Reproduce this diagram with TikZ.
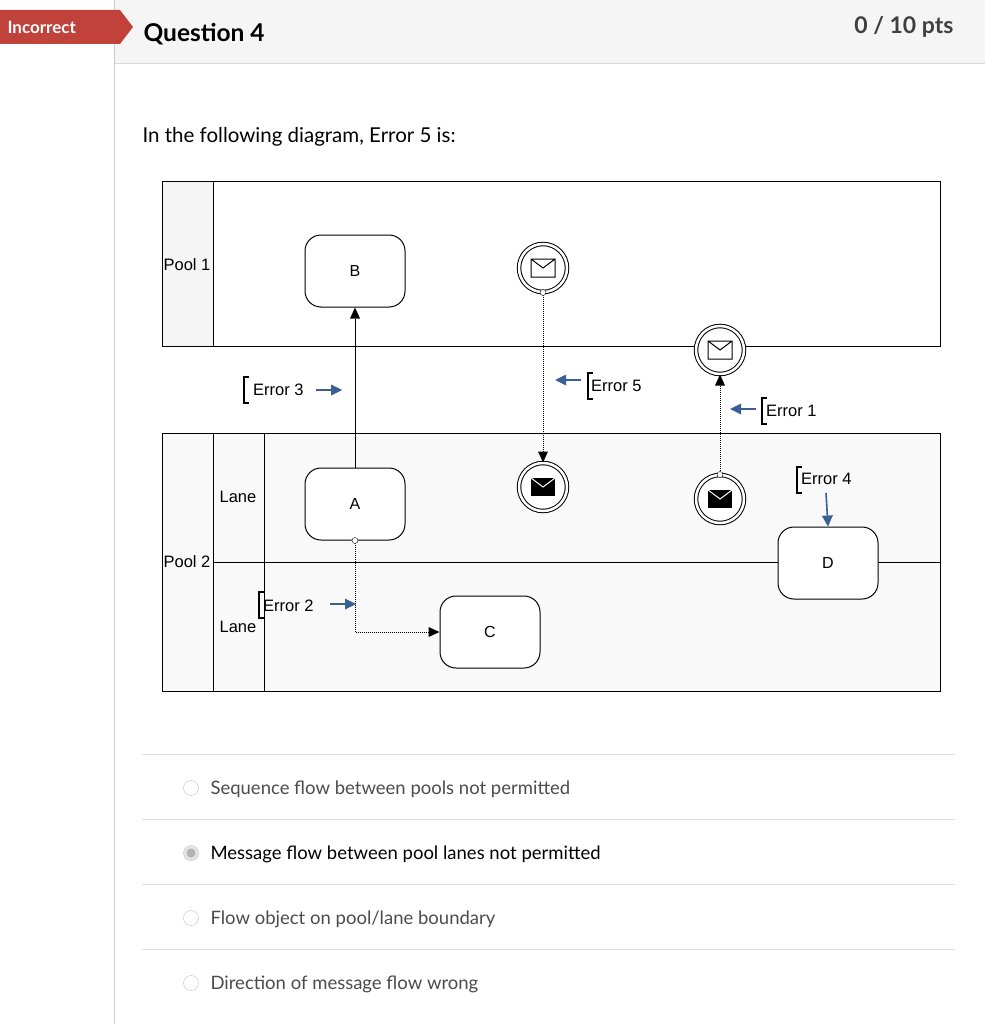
\documentclass[tikz,border=0pt]{standalone}
\usepackage{fontspec}
\setmainfont{Lato}
\newfontfamily\diag{Liberation Sans}
\usetikzlibrary{arrows.meta}
\definecolor{errblue}{HTML}{3A5F95}
\definecolor{hdr}{HTML}{F5F5F5}
\definecolor{tagred}{HTML}{C0423A}
\tikzset{
 task/.style={draw,rounded corners=16pt,minimum width=100pt,minimum height=72pt,font=\diag\fontsize{16}{16}\selectfont,line width=1pt},
 ev/.style={draw,circle,minimum size=48pt,line width=1pt,double,double distance=2.5pt},
 lbl/.style={font=\diag\fontsize{16.5}{16.5}\selectfont,inner sep=1pt},
 err/.style={font=\diag\fontsize{16.5}{16.5}\selectfont,inner sep=1pt},
 bl/.style={errblue,line width=1.6pt,-{Triangle[length=11pt,width=11pt,line width=0pt]}},
 msg/.style={densely dotted,line width=1pt,-{Triangle[length=11pt,width=10pt,line width=0pt]}},
 ans/.style={anchor=west,font=\fontsize{18.5}{18.5}\selectfont},
 sep/.style={draw=gray!25,line width=0.8pt},
 radio/.style={draw=gray!50,circle,minimum size=15pt,inner sep=0pt}
}
\newcommand{\env}[3]{% x y filled
 \ifnum#3=1 \fill (#1-12,#2-9) rectangle (#1+12,#2+9); \draw[white,line width=1pt] (#1-12,#2-9)--(#1,#2)--(#1+12,#2-9);
 \else \draw[line width=1pt] (#1-12,#2-9) rectangle (#1+12,#2+9) (#1-12,#2-9)--(#1,#2)--(#1+12,#2-9);\fi}
\begin{document}
\begin{tikzpicture}[x=1pt,y=-1pt]
\useasboundingbox (0,0) rectangle (985,1024);
\fill[white] (0,0) rectangle (985,1024);
\fill[hdr] (114,0) rectangle (985,64);
\draw[gray!30,line width=1pt] (114,64)--(985,64);
\draw[gray!40] (114,0)--(114,1024);
\fill[tagred] (0,10)--(120,10)--(133,27)--(120,44)--(0,44)--cycle;
\node[white,anchor=west,font=\bfseries\fontsize{17}{17}\selectfont] (tag) at (4,27) {Incorrect};
\node[anchor=west,font=\bfseries\fontsize{24.5}{24.5}\selectfont] (q) at (140,34) {Question 4};
\node[anchor=east,text=black!75,font=\bfseries\fontsize{23}{23}\selectfont] (pts) at (957,27) {0 / 10 pts};
\node[anchor=west,font=\fontsize{20.5}{20.5}\selectfont] (stem) at (139,137) {In the following diagram, Error 5 is:};
% pools
\draw[line width=1pt,fill=white] (162,182) rectangle (940,346);
\draw[line width=1pt,fill=gray!8] (162,182) rectangle (213,346);
\draw[line width=1pt,fill=gray!5] (162,433) rectangle (940,691);
\draw[line width=1pt] (213,433)--(213,691) (264,433)--(264,691) (213,562)--(940,562);
\node[lbl] (p1) at (187,265) {Pool 1};
\node[lbl] (p2) at (187,562) {Pool 2};
\node[lbl] (l1) at (238,497) {Lane};
\node[lbl] (l2) at (238,627) {Lane};
% tasks
\node[task,fill=white] (B) at (355,271) {B};
\node[task,fill=white] (A) at (355,504) {A};
\node[task,fill=white] (C) at (490,632) {C};
\node[task,fill=white] (D) at (828,563) {D};
% events
\node[ev,fill=white] (e1) at (543,268) {}; \env{543}{268}{0}
\node[ev,fill=white] (e2) at (720,350) {}; \env{720}{350}{0}
\node[ev,fill=white] (e3) at (543,487) {}; \env{543}{487}{1}
\node[ev,fill=white] (e4) at (720,499) {}; \env{720}{499}{1}
% flows
\draw[line width=1pt,-{Triangle[length=11pt,width=10pt,line width=0pt]}] (A.north) -- (B.south);
\draw[msg] (e1.south) -- (e3.north);
\draw[fill=white] (e1.south) circle (3pt);
\draw[msg] (e4.north) -- (e2.south);
\draw[fill=white] (e4.north) circle (3pt);
\coordinate (bend) at (A.south |- C.west);
\draw[msg] (A.south) -- (bend) -- (C.west);
\draw[fill=white] (A.south) circle (3pt);
% errors
\newcommand{\brk}[2]{\draw[line width=1.6pt] (#1+5,#2-13)--(#1,#2-13)--(#1,#2+13)--(#1+5,#2+13);}
\brk{244}{390}\node[err,anchor=west] (E3) at (252,390) {Error 3};
\coordinate (e3a) at (316,390); \coordinate (e3b) at (342,390); \draw[bl] (e3a)--(e3b);
\brk{588}{386}\node[err,anchor=west] (E5) at (590,386) {Error 5};
\coordinate (e5a) at (581,380); \coordinate (e5b) at (555,380); \draw[bl] (e5a)--(e5b);
\brk{762}{411}\node[err,anchor=west] (E1) at (765,411) {Error 1};
\coordinate (e1a) at (756,409); \coordinate (e1b) at (730,409); \draw[bl] (e1a)--(e1b);
\brk{797}{480}\node[err,anchor=west] (E4) at (800,479) {Error 4};
\coordinate (e4a) at (826,493); \draw[bl] (e4a)--(D.north);
\brk{259}{605}\node[err,anchor=west] (E2) at (262,606) {Error 2};
\coordinate (e2a) at (330,604); \coordinate (e2b) at (356,604); \draw[bl] (e2a)--(e2b);
% answers
\foreach \y in {754,819,884,949} \draw[sep] (142,\y)--(955,\y);
\node[radio] (r1) at (191,788) {};
\node[radio,fill=gray!20] (r2) at (191,853) {}; \fill[gray!60] (r2) circle (4.5pt);
\node[radio] (r3) at (191,918) {};
\node[radio] (r4) at (191,983) {};
\node[ans,text=black!70] (a1) at (207,789) {Sequence flow between pools not permitted};
\node[ans] (a2) at (207,854) {Message flow between pool lanes not permitted};
\node[ans,text=black!70] (a3) at (207,919) {Flow object on pool/lane boundary};
\node[ans,text=black!70] (a4) at (207,984) {Direction of message flow wrong};
\end{tikzpicture}
\end{document}
